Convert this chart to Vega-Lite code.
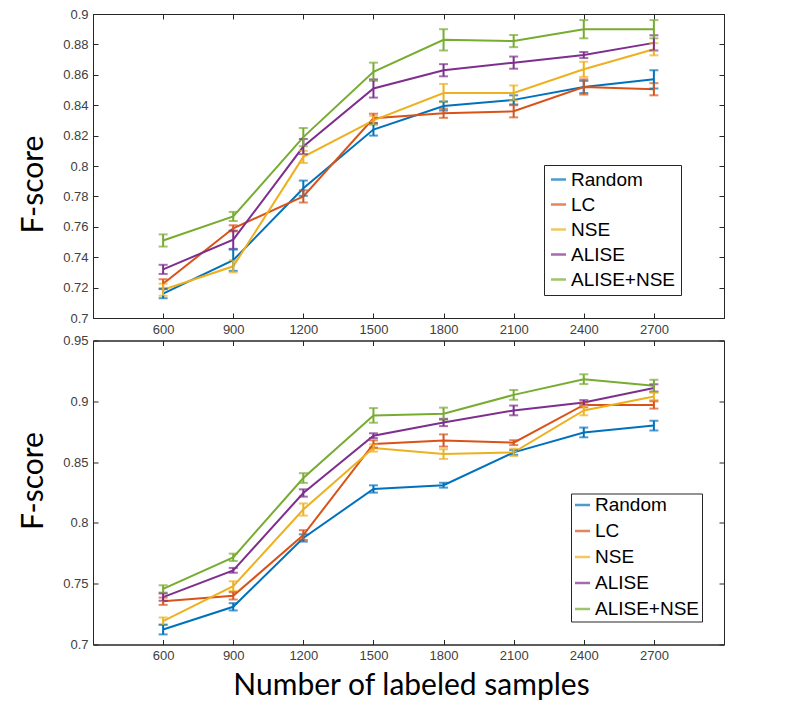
{
  "$schema": "https://vega.github.io/schema/vega-lite/v6.json",
  "padding": {"left": 17, "top": 7, "right": 5, "bottom": 5},
  "background": "white",
  "bounds": "flush",
  "spacing": 22.5,
  "datasets": {
    "top": [
      {"s": "Random", "n": 600, "f": 0.716, "e": 0.003},
      {"s": "Random", "n": 900, "f": 0.738, "e": 0.007},
      {"s": "Random", "n": 1200, "f": 0.7854, "e": 0.005},
      {"s": "Random", "n": 1500, "f": 0.824, "e": 0.004},
      {"s": "Random", "n": 1800, "f": 0.8395, "e": 0.003},
      {"s": "Random", "n": 2100, "f": 0.8435, "e": 0.003},
      {"s": "Random", "n": 2400, "f": 0.852, "e": 0.004},
      {"s": "Random", "n": 2700, "f": 0.857, "e": 0.006},
      {"s": "LC", "n": 600, "f": 0.7225, "e": 0.003},
      {"s": "LC", "n": 900, "f": 0.759, "e": 0.002},
      {"s": "LC", "n": 1200, "f": 0.78, "e": 0.004},
      {"s": "LC", "n": 1500, "f": 0.8314, "e": 0.003},
      {"s": "LC", "n": 1800, "f": 0.8347, "e": 0.003},
      {"s": "LC", "n": 2100, "f": 0.836, "e": 0.004},
      {"s": "LC", "n": 2400, "f": 0.852, "e": 0.005},
      {"s": "LC", "n": 2700, "f": 0.8505, "e": 0.004},
      {"s": "NSE", "n": 600, "f": 0.7186, "e": 0.004},
      {"s": "NSE", "n": 900, "f": 0.734, "e": 0.004},
      {"s": "NSE", "n": 1200, "f": 0.806, "e": 0.004},
      {"s": "NSE", "n": 1500, "f": 0.83, "e": 0.003},
      {"s": "NSE", "n": 1800, "f": 0.848, "e": 0.006},
      {"s": "NSE", "n": 2100, "f": 0.848, "e": 0.005},
      {"s": "NSE", "n": 2400, "f": 0.8636, "e": 0.005},
      {"s": "NSE", "n": 2700, "f": 0.8768, "e": 0.004},
      {"s": "ALISE", "n": 600, "f": 0.732, "e": 0.003},
      {"s": "ALISE", "n": 900, "f": 0.7515, "e": 0.006},
      {"s": "ALISE", "n": 1200, "f": 0.8128, "e": 0.005},
      {"s": "ALISE", "n": 1500, "f": 0.851, "e": 0.006},
      {"s": "ALISE", "n": 1800, "f": 0.863, "e": 0.004},
      {"s": "ALISE", "n": 2100, "f": 0.868, "e": 0.004},
      {"s": "ALISE", "n": 2400, "f": 0.873, "e": 0.002},
      {"s": "ALISE", "n": 2700, "f": 0.881, "e": 0.005},
      {"s": "ALISE+NSE", "n": 600, "f": 0.751, "e": 0.004},
      {"s": "ALISE+NSE", "n": 900, "f": 0.7668, "e": 0.003},
      {"s": "ALISE+NSE", "n": 1200, "f": 0.819, "e": 0.006},
      {"s": "ALISE+NSE", "n": 1500, "f": 0.862, "e": 0.006},
      {"s": "ALISE+NSE", "n": 1800, "f": 0.883, "e": 0.007},
      {"s": "ALISE+NSE", "n": 2100, "f": 0.8822, "e": 0.004},
      {"s": "ALISE+NSE", "n": 2400, "f": 0.89, "e": 0.006},
      {"s": "ALISE+NSE", "n": 2700, "f": 0.89, "e": 0.006}
    ],
    "bottom": [
      {"s": "Random", "n": 600, "f": 0.7123, "e": 0.004},
      {"s": "Random", "n": 900, "f": 0.731, "e": 0.003},
      {"s": "Random", "n": 1200, "f": 0.7876, "e": 0.003},
      {"s": "Random", "n": 1500, "f": 0.8279, "e": 0.003},
      {"s": "Random", "n": 1800, "f": 0.831, "e": 0.002},
      {"s": "Random", "n": 2100, "f": 0.858, "e": 0.002},
      {"s": "Random", "n": 2400, "f": 0.8744, "e": 0.004},
      {"s": "Random", "n": 2700, "f": 0.88, "e": 0.004},
      {"s": "LC", "n": 600, "f": 0.7356, "e": 0.003},
      {"s": "LC", "n": 900, "f": 0.74, "e": 0.003},
      {"s": "LC", "n": 1200, "f": 0.79, "e": 0.004},
      {"s": "LC", "n": 1500, "f": 0.8649, "e": 0.003},
      {"s": "LC", "n": 1800, "f": 0.8678, "e": 0.005},
      {"s": "LC", "n": 2100, "f": 0.866, "e": 0.002},
      {"s": "LC", "n": 2400, "f": 0.897, "e": 0.002},
      {"s": "LC", "n": 2700, "f": 0.897, "e": 0.003},
      {"s": "NSE", "n": 600, "f": 0.7192, "e": 0.003},
      {"s": "NSE", "n": 900, "f": 0.748, "e": 0.004},
      {"s": "NSE", "n": 1200, "f": 0.811, "e": 0.005},
      {"s": "NSE", "n": 1500, "f": 0.8616, "e": 0.003},
      {"s": "NSE", "n": 1800, "f": 0.8566, "e": 0.004},
      {"s": "NSE", "n": 2100, "f": 0.858, "e": 0.003},
      {"s": "NSE", "n": 2400, "f": 0.8925, "e": 0.004},
      {"s": "NSE", "n": 2700, "f": 0.904, "e": 0.003},
      {"s": "ALISE", "n": 600, "f": 0.739, "e": 0.003},
      {"s": "ALISE", "n": 900, "f": 0.761, "e": 0.002},
      {"s": "ALISE", "n": 1200, "f": 0.8246, "e": 0.003},
      {"s": "ALISE", "n": 1500, "f": 0.8717, "e": 0.002},
      {"s": "ALISE", "n": 1800, "f": 0.8826, "e": 0.003},
      {"s": "ALISE", "n": 2100, "f": 0.8925, "e": 0.004},
      {"s": "ALISE", "n": 2400, "f": 0.899, "e": 0.002},
      {"s": "ALISE", "n": 2700, "f": 0.911, "e": 0.003},
      {"s": "ALISE+NSE", "n": 600, "f": 0.7457, "e": 0.003},
      {"s": "ALISE+NSE", "n": 900, "f": 0.7717, "e": 0.003},
      {"s": "ALISE+NSE", "n": 1200, "f": 0.8369, "e": 0.004},
      {"s": "ALISE+NSE", "n": 1500, "f": 0.8884, "e": 0.006},
      {"s": "ALISE+NSE", "n": 1800, "f": 0.8898, "e": 0.005},
      {"s": "ALISE+NSE", "n": 2100, "f": 0.9053, "e": 0.004},
      {"s": "ALISE+NSE", "n": 2400, "f": 0.9182, "e": 0.004},
      {"s": "ALISE+NSE", "n": 2700, "f": 0.9127, "e": 0.005}
    ]
  },
  "vconcat": [
    {
      "width": 631,
      "height": 304,
      "data": {"name": "top"},
      "layer": [
        {
          "mark": {"type": "line", "strokeWidth": 2},
          "encoding": {
            "x": {
              "field": "n",
              "type": "quantitative",
              "scale": {"domain": [300, 3000], "nice": false},
              "axis": {"values": [600, 900, 1200, 1500, 1800, 2100, 2400, 2700], "format": "d", "title": null}
            },
            "y": {
              "field": "f",
              "type": "quantitative",
              "scale": {"domain": [0.7, 0.9], "nice": false},
              "axis": {"values": [0.7, 0.72, 0.74, 0.76, 0.78, 0.8, 0.82, 0.84, 0.86, 0.88, 0.9], "format": "~g", "title": "F-score", "titleY": 170}
            },
            "color": {
              "field": "s",
              "type": "nominal",
              "sort": null,
              "scale": {
                "domain": ["Random", "LC", "NSE", "ALISE", "ALISE+NSE"],
                "range": ["#0072BD", "#D95319", "#EDB120", "#7E2F8E", "#77AC30"]
              },
              "legend": {"legendX": 451, "legendY": 151, "padding": 5, "rowPadding": 5}
            }
          }
        },
        {
          "mark": {"type": "errorbar", "thickness": 2, "ticks": {"size": 9, "thickness": 2}},
          "encoding": {
            "x": {
              "field": "n",
              "type": "quantitative",
              "axis": {"orient": "top", "values": [600, 900, 1200, 1500, 1800, 2100, 2400, 2700], "labels": false, "title": null}
            },
            "y": {
              "field": "f",
              "type": "quantitative",
              "axis": {"orient": "right", "values": [0.7, 0.72, 0.74, 0.76, 0.78, 0.8, 0.82, 0.84, 0.86, 0.88, 0.9], "labels": false, "title": null}
            },
            "yError": {"field": "e"},
            "color": {"field": "s", "type": "nominal", "sort": null}
          }
        }
      ],
      "resolve": {"axis": {"x": "independent", "y": "independent"}}
    },
    {
      "width": 631,
      "height": 304,
      "data": {"name": "bottom"},
      "layer": [
        {
          "mark": {"type": "line", "strokeWidth": 2},
          "encoding": {
            "x": {
              "field": "n",
              "type": "quantitative",
              "scale": {"domain": [300, 3000], "nice": false},
              "axis": {"values": [600, 900, 1200, 1500, 1800, 2100, 2400, 2700], "format": "d", "title": "Number of labeled samples", "titleX": 318, "titleY": 50, "titleBaseline": "alphabetic"}
            },
            "y": {
              "field": "f",
              "type": "quantitative",
              "scale": {"domain": [0.7, 0.95], "nice": false},
              "axis": {"values": [0.7, 0.75, 0.8, 0.85, 0.9, 0.95], "format": "~g", "title": "F-score", "titleY": 140}
            },
            "color": {
              "field": "s",
              "type": "nominal",
              "sort": null,
              "scale": {
                "domain": ["Random", "LC", "NSE", "ALISE", "ALISE+NSE"],
                "range": ["#0072BD", "#D95319", "#EDB120", "#7E2F8E", "#77AC30"]
              },
              "legend": {"legendX": 478, "legendY": 153, "padding": 2, "rowPadding": 6}
            }
          }
        },
        {
          "mark": {"type": "errorbar", "thickness": 2, "ticks": {"size": 9, "thickness": 2}},
          "encoding": {
            "x": {
              "field": "n",
              "type": "quantitative",
              "axis": {"orient": "top", "values": [600, 900, 1200, 1500, 1800, 2100, 2400, 2700], "labels": false, "title": null}
            },
            "y": {
              "field": "f",
              "type": "quantitative",
              "axis": {"orient": "right", "values": [0.7, 0.75, 0.8, 0.85, 0.9, 0.95], "labels": false, "title": null}
            },
            "yError": {"field": "e"},
            "color": {"field": "s", "type": "nominal", "sort": null}
          }
        }
      ],
      "resolve": {"axis": {"x": "independent", "y": "independent"}}
    }
  ],
  "resolve": {
    "scale": {"x": "independent", "y": "independent", "color": "independent"},
    "legend": {"color": "independent"}
  },
  "config": {
    "view": {"stroke": "#262626", "strokeWidth": 1},
    "axis": {
      "grid": false,
      "domainColor": "#262626",
      "tickColor": "#262626",
      "tickSize": -5,
      "labelPadding": 10,
      "labelFont": "Liberation Sans",
      "labelFontSize": 13,
      "labelColor": "#404040",
      "titleFont": "Lato",
      "titleFontSize": 30,
      "titleFontWeight": "normal",
      "titleColor": "black"
    },
    "axisLeft": {"titleX": -51, "titleBaseline": "alphabetic"},
    "legend": {
      "orient": "none",
      "title": null,
      "strokeColor": "#262626",
      "fillColor": "white",
      "symbolType": "stroke",
      "symbolSize": 225,
      "symbolStrokeWidth": 2.5,
      "labelFont": "Liberation Sans",
      "labelFontSize": 19,
      "labelColor": "black",
      "labelOffset": 3
    }
  }
}
